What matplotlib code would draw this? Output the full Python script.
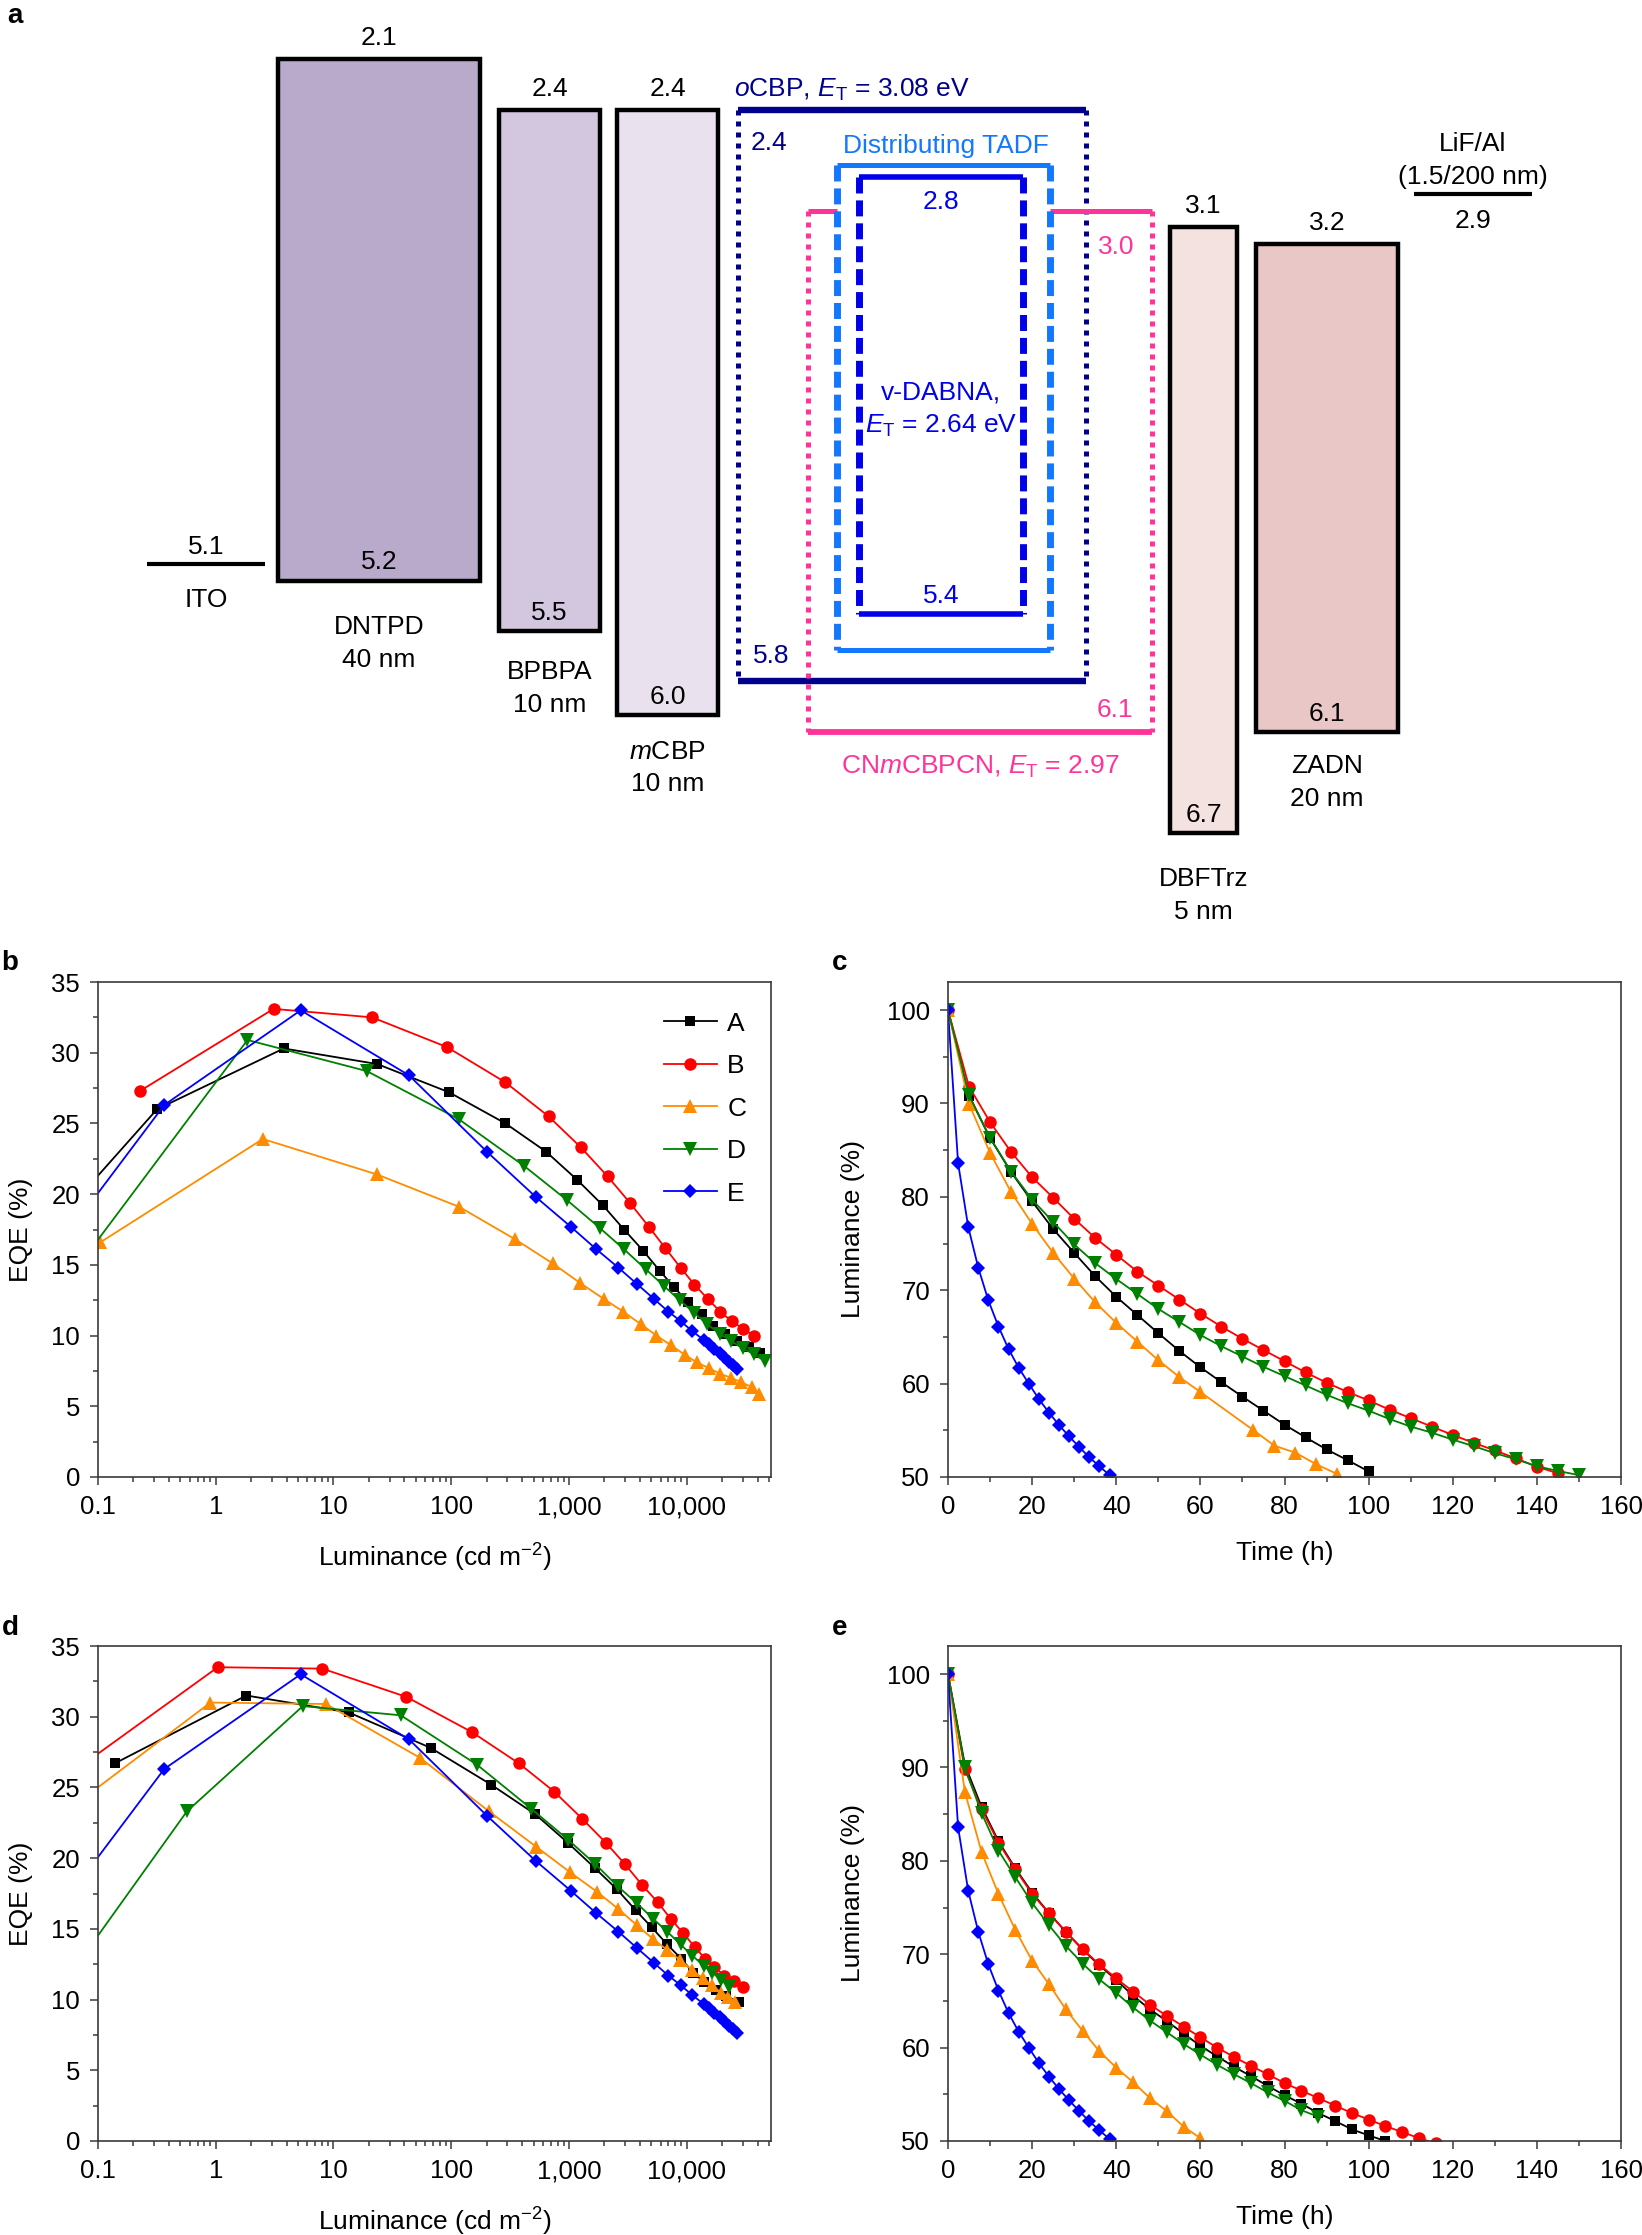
import matplotlib as mpl
import matplotlib.pyplot as plt
from matplotlib.ticker import MultipleLocator, LogLocator, NullFormatter


# ---------------- panel a : energy levels (eV) ----------------
box_names = ["DNTPD\n40 nm", "BPBPA\n10 nm", "$m$CBP\n10 nm", "DBFTrz\n5 nm", "ZADN\n20 nm"]
box_lumo = [2.1, 2.4, 2.4, 3.1, 3.2]
box_homo = [5.2, 5.5, 6.0, 6.7, 6.1]
ito_level = 5.1
cathode_level = 2.9
ocbp_levels = [2.4, 5.8]
cnmcbpcn_levels = [3.0, 6.1]
tadf_levels = [2.73, 5.61]
vdabna_levels = [2.8, 5.4]

# ---------------- panel b : EQE vs luminance ----------------
b_lum_A = [0.08, 0.317, 3.78, 23.5, 96, 289, 640, 1178, 1946, 2935, 4266, 5875, 7850,
           10300, 13370, 16860, 21300, 26700, 33500, 41900]
b_eqe_A = [20.4, 26.0, 30.3, 29.2, 27.2, 25.0, 23.0, 21.0, 19.2, 17.5, 16.0, 14.6, 13.4,
           12.35, 11.5, 10.7, 10.1, 9.6, 9.2, 8.8]
b_lum_B = [0.228, 3.10, 21.3, 92, 289, 671, 1265, 2133, 3283, 4764, 6561, 8873, 11620,
           15090, 19200, 24200, 30000, 37000]
b_eqe_B = [27.3, 33.1, 32.5, 30.4, 27.9, 25.5, 23.3, 21.25, 19.4, 17.7, 16.2, 14.8, 13.6,
           12.6, 11.7, 11.0, 10.5, 10.0]
b_lum_C = [0.105, 2.51, 23.3, 117, 350, 728, 1253, 1968, 2880, 4090, 5530, 7400, 9610,
           12220, 15380, 19200, 24000, 29000, 36000, 41000]
b_eqe_C = [16.6, 23.9, 21.4, 19.1, 16.8, 15.1, 13.7, 12.6, 11.7, 10.8, 10.0, 9.3, 8.65,
           8.1, 7.7, 7.3, 7.0, 6.7, 6.35, 5.9]
b_lum_D = [0.08, 1.86, 19.2, 116, 415, 955, 1833, 2935, 4480, 6430, 8690, 11620, 14930,
           19300, 24000, 29800, 37000, 46000]
b_eqe_D = [15.7, 30.9, 28.7, 25.3, 22.0, 19.6, 17.6, 16.1, 14.7, 13.5, 12.5, 11.6, 10.8,
           10.1, 9.6, 9.1, 8.7, 8.2]
lum_E = [0.08, 0.365, 5.27, 43.8, 201, 523, 1035, 1710, 2630, 3776, 5260, 6970, 8950,
         11170, 13930, 15500, 17200, 19000, 20800, 22800, 24800, 27000]
eqe_E = [19.0, 26.3, 33.0, 28.4, 23.0, 19.8, 17.7, 16.1, 14.8, 13.65, 12.6, 11.7, 11.0,
         10.3, 9.7, 9.4, 9.05, 8.75, 8.45, 8.15, 7.9, 7.65]

# ---------------- panel d : EQE vs luminance ----------------
d_lum_A = [0.139, 1.82, 13.5, 66.8, 218, 518, 975, 1660, 2554, 3700, 5058, 6830, 8950,
           11360, 14000, 17600, 21600, 28000]
d_eqe_A = [26.7, 31.5, 30.3, 27.8, 25.2, 23.1, 21.1, 19.3, 17.8, 16.3, 15.1, 13.9, 12.9,
           11.9, 11.25, 10.7, 10.25, 9.8]
d_lum_B = [0.08, 1.04, 8.04, 41.7, 150.7, 376, 750, 1290, 2050, 2970, 4180, 5650, 7330,
           9330, 11750, 14300, 17100, 20900, 25000, 30000]
d_eqe_B = [26.8, 33.5, 33.4, 31.4, 28.9, 26.7, 24.7, 22.8, 21.1, 19.6, 18.1, 16.9, 15.7,
           14.7, 13.7, 12.9, 12.3, 11.7, 11.3, 10.9]
d_lum_C = [0.08, 0.902, 8.63, 54.1, 210, 528, 1023, 1743, 2630, 3780, 5150, 6830, 8770,
           11060, 13670, 16500, 19400, 22600, 25900]
d_eqe_C = [24.4, 31.0, 30.9, 27.1, 23.3, 20.8, 19.0, 17.6, 16.4, 15.25, 14.3, 13.5, 12.8,
           12.1, 11.5, 11.0, 10.5, 10.2, 9.8]
d_lum_D = [0.08, 0.568, 5.49, 37.3, 166, 477, 984, 1660, 2606, 3780, 5210, 6830, 8860,
           11200, 13900, 16500, 19600, 22900]
d_eqe_D = [13.4, 23.3, 30.75, 30.1, 26.6, 23.5, 21.3, 19.6, 18.0, 16.8, 15.7, 14.8, 13.9,
           13.1, 12.4, 11.9, 11.4, 10.9]

# ---------------- panel c : lifetime ----------------
c_time_A = [0, 5, 10, 15, 20, 25, 30, 35, 40, 45, 50, 55, 60, 65, 70, 75, 80, 85, 90, 95, 100]
c_lum_A = [100, 90.8, 86.3, 82.65, 79.5, 76.55, 74.0, 71.5, 69.3, 67.35, 65.4, 63.5, 61.75,
           60.15, 58.6, 57.1, 55.6, 54.25, 52.95, 51.8, 50.6]
c_time_B = [0, 5, 10, 15, 20, 25, 30, 35, 40, 45, 50, 55, 60, 65, 70, 75, 80, 85, 90, 95,
            100, 105, 110, 115, 120, 125, 130, 135, 140, 145]
c_lum_B = [100, 91.8, 88.0, 84.8, 82.1, 79.9, 77.65, 75.6, 73.8, 72.0, 70.5, 69.0, 67.5,
           66.1, 64.8, 63.6, 62.4, 61.2, 60.1, 59.1, 58.2, 57.2, 56.3, 55.4, 54.5, 53.65,
           52.85, 52.0, 51.1, 50.4]
c_time_C = [0, 5, 10, 15, 20, 25, 30, 35, 40, 45, 50, 55, 60, 72.5, 77.6, 82.6, 87.6, 92.6]
c_lum_C = [100, 89.95, 84.7, 80.5, 77.1, 74.0, 71.25, 68.7, 66.5, 64.5, 62.5, 60.7, 59.1,
           55.05, 53.35, 52.6, 51.35, 50.3]
c_time_D = [0, 5, 10, 15, 20, 25, 30, 35, 40, 45, 50, 55, 60, 65, 70, 75, 80, 85, 90, 95,
            100, 105, 110, 115, 120, 125, 130, 135, 140, 145, 150]
c_lum_D = [100, 90.9, 86.3, 82.7, 79.7, 77.3, 74.9, 72.9, 71.2, 69.6, 68.0, 66.6, 65.2,
           64.0, 62.9, 61.8, 60.8, 59.8, 58.8, 57.9, 57.1, 56.2, 55.4, 54.75, 54.0, 53.3,
           52.55, 51.9, 51.15, 50.65, 50.2]
time_E = [0, 2.4, 4.8, 7.2, 9.6, 12.0, 14.4, 16.8, 19.2, 21.6, 24.0, 26.4, 28.8, 31.2,
          33.6, 36.0, 38.4]
life_E = [100, 83.6, 76.8, 72.4, 68.9, 66.1, 63.7, 61.7, 60.0, 58.35, 56.9, 55.55, 54.35,
          53.2, 52.1, 51.15, 50.2]

# ---------------- panel e : lifetime ----------------
e_time_A = [0, 4, 8, 12, 16, 20, 24, 28, 32, 36, 40, 44, 48, 52, 56, 60, 64, 68, 72, 76,
            80, 84, 88, 92, 96, 100, 104]
e_lum_A = [100, 90.3, 85.75, 82.1, 79.2, 76.6, 74.4, 72.4, 70.5, 68.8, 67.25, 65.55, 64.1,
           62.85, 61.5, 60.2, 59.05, 57.95, 56.95, 55.9, 54.9, 54.0, 53.0, 52.15, 51.25,
           50.6, 50.0]
e_time_B = [0, 4, 8, 12, 16, 20, 24, 28, 32, 36, 40, 44, 48, 52, 56, 60, 64, 68, 72, 76,
            80, 84, 88, 92, 96, 100, 104, 108, 112, 116]
e_lum_B = [100, 89.8, 85.5, 81.95, 79.1, 76.45, 74.4, 72.4, 70.55, 68.9, 67.4, 66.0, 64.6,
           63.4, 62.25, 61.1, 60.0, 59.0, 58.05, 57.15, 56.2, 55.4, 54.6, 53.8, 53.0, 52.3,
           51.6, 50.95, 50.3, 49.75]
e_time_C = [0, 4, 8, 12, 16, 20, 24, 28, 32, 36, 40, 44, 48, 52, 56, 60]
e_lum_C = [100, 87.4, 80.9, 76.45, 72.6, 69.3, 66.8, 64.1, 61.8, 59.6, 57.85, 56.3, 54.6,
           53.2, 51.55, 50.3]
e_time_D = [0, 4, 8, 12, 16, 20, 24, 28, 32, 36, 40, 44, 48, 52, 56, 60, 64, 68, 72, 76,
            80, 84, 88]
e_lum_D = [100, 90.0, 85.1, 81.1, 78.25, 75.5, 73.1, 70.9, 69.0, 67.3, 65.85, 64.3, 62.9,
           61.65, 60.4, 59.25, 58.15, 57.15, 56.2, 55.2, 54.3, 53.3, 52.6]

device_labels = ["A", "B", "C", "D", "E"]
lum_ticks = [0.1, 1, 10, 100, 1000, 10000]
lum_tick_labels = ["0.1", "1", "10", "100", "1,000", "10,000"]

# ---------------- styles / layout ----------------
W, H = 1642, 2235
SERIES_STYLE = [("s", "#000000", 7.5), ("o", "#ff0000", 9), ("^", "#ff8c00", 9.5),
                ("v", "#008000", 9.5), ("D", "#0000ff", 7)]
BOX_FILL = ["#b9aacb", "#d2c7de", "#e9e2ee", "#f4e2e1", "#e9c7c6"]
BOX_X = [(278, 480), (499, 600), (617, 718), (1170, 1237), (1256, 1398)]
NAME_DY = [-62, -58, -55, -62, -53]
ITO_X = (147, 265)
CATHODE_X = (1414, 1532)
OCBP_X = (738, 1086)
PINK_X = (808, 1152)
TADF_X = (837, 1050)
VDABNA_X = (859, 1023)
NAVY, PINK, SKY, BLUE = "#00008c", "#ff3399", "#1478ff", "#0000eb"
DOTS = [(0, (1, 1.2))]
DASHES = [(0, (2.3, 1.0))]
FS_A = 19
FS_TICK = 18.5
FS_LABEL = 19
LINESPACING = 1.45

plt.rcParams["font.family"] = ["Liberation Sans", "DejaVu Sans"]
plt.rcParams["mathtext.fontset"] = "custom"
plt.rcParams["mathtext.rm"] = "Liberation Sans"
plt.rcParams["mathtext.it"] = "Liberation Sans:italic"
plt.rcParams["mathtext.bf"] = "Liberation Sans:bold"


def px_axes(fig, left, top, right, bottom):
    """Axes placed with pixel edges (origin top-left)"""
    return fig.add_axes([left / W, 1 - bottom / H, (right - left) / W, (bottom - top) / H])


def label(ax, x, y, s, dy, color="black", ha="center", **kw):
    """Text whose (last line) baseline sits dy points above the level"""
    ax.annotate(s, (x, y), xytext=(0, dy), textcoords="offset points", ha=ha,
                va="baseline", fontsize=FS_A, color=color, linespacing=LINESPACING, **kw)


def plot_levels(ax):
    """Energy level diagram"""
    ax.set_xlim(0, W)
    ax.set_ylim(7.254, 1.748)
    ax.axis("off")

    centers = [(l + r) / 2 for l, r in BOX_X]
    widths = [r - l for l, r in BOX_X]
    heights = [h - l for l, h in zip(box_lumo, box_homo)]
    ax.bar(centers, heights, width=widths, bottom=box_lumo, color=BOX_FILL,
           edgecolor="black", linewidth=3.2, zorder=2)
    for c, lu, ho, name, ndy in zip(centers, box_lumo, box_homo, box_names, NAME_DY):
        label(ax, c, lu, f"{lu:.1f}", 10)
        label(ax, c, ho, f"{ho:.1f}", 8)
        label(ax, c, ho, name, ndy)

    # electrodes
    ax.hlines(ito_level, *ITO_X, color="black", lw=3)
    label(ax, sum(ITO_X) / 2, ito_level, f"{ito_level:.1f}", 7)
    label(ax, sum(ITO_X) / 2, ito_level, "ITO", -31)
    ax.hlines(cathode_level, *CATHODE_X, color="black", lw=3)
    label(ax, sum(CATHODE_X) / 2, cathode_level, f"{cathode_level:.1f}", -25)
    label(ax, sum(CATHODE_X) / 2, cathode_level, "LiF/Al\n(1.5/200 nm)", 7)

    # oCBP host
    ax.hlines(ocbp_levels, *OCBP_X, color=NAVY, lw=4.6)
    ax.vlines(OCBP_X, *ocbp_levels, color=NAVY, lw=3.6, linestyles=DOTS)
    label(ax, OCBP_X[0] - 4, ocbp_levels[0], "$o$CBP, $E_\\mathrm{T}$ = 3.08 eV", 9,
          color=NAVY, ha="left")
    label(ax, OCBP_X[0] + 13, ocbp_levels[0], f"{ocbp_levels[0]:.1f}", -29, color=NAVY, ha="left")
    label(ax, OCBP_X[0] + 15, ocbp_levels[1], f"{ocbp_levels[1]:.1f}", 13, color=NAVY, ha="left")

    # CNmCBPCN
    ax.hlines([cnmcbpcn_levels[0]] * 2, [PINK_X[0], TADF_X[1]], [TADF_X[0], PINK_X[1]],
              color=PINK, lw=3.6)
    ax.hlines(cnmcbpcn_levels[1], *PINK_X, color=PINK, lw=4.2)
    ax.vlines(PINK_X, *cnmcbpcn_levels, color=PINK, lw=3.6, linestyles=DOTS)
    label(ax, PINK_X[1] - 36, cnmcbpcn_levels[0], f"{cnmcbpcn_levels[0]:.1f}", -31, color=PINK)
    label(ax, PINK_X[1] - 37, cnmcbpcn_levels[1], f"{cnmcbpcn_levels[1]:.1f}", 11, color=PINK)
    label(ax, sum(PINK_X) / 2, cnmcbpcn_levels[1], "CN$m$CBPCN, $E_\\mathrm{T}$ = 2.97", -30,
          color=PINK)

    # distributing TADF
    ax.hlines(tadf_levels, *TADF_X, color=SKY, lw=3.6)
    ax.vlines(TADF_X, *tadf_levels, color=SKY, lw=5, linestyles=DASHES)
    label(ax, sum(TADF_X) / 2 + 2, tadf_levels[0], "Distributing TADF", 9, color=SKY)

    # v-DABNA
    ax.hlines(vdabna_levels, *VDABNA_X, color=BLUE, lw=4)
    ax.vlines(VDABNA_X, *vdabna_levels, color=BLUE, lw=5, linestyles=DASHES)
    vc = sum(VDABNA_X) / 2
    label(ax, vc, vdabna_levels[0], f"{vdabna_levels[0]:.1f}", -23, color=BLUE)
    label(ax, vc, vdabna_levels[1], f"{vdabna_levels[1]:.1f}", 8, color=BLUE)
    label(ax, vc, sum(vdabna_levels) / 2, "v-DABNA,\n$E_\\mathrm{T}$ = 2.64 eV", -27, color=BLUE)


def style_axes(ax):
    for sp in ax.spines.values():
        sp.set_color("#3a3a3a")
        sp.set_linewidth(1.2)
    ax.tick_params(which="both", direction="out", top=False, right=False,
                   color="#3a3a3a", width=1.1, labelsize=FS_TICK)
    ax.tick_params(which="major", length=6, pad=7)
    ax.tick_params(which="minor", length=3.5)


def plot_eqe(ax, series, legend=False):
    for (lum, eqe), (mk, col, ms), lab in zip(series, SERIES_STYLE, device_labels):
        ax.plot(lum, eqe, marker=mk, color=col, ms=ms, mew=0, lw=1.3, label=lab)
    ax.set_xscale("log")
    ax.set_xlim(0.1, 5.2e4)
    ax.set_ylim(0, 35)
    ax.set_xticks(lum_ticks, lum_tick_labels)
    ax.xaxis.set_minor_locator(LogLocator(base=10, subs=[2, 3, 4, 5, 6, 7, 8, 9], numticks=20))
    ax.xaxis.set_minor_formatter(NullFormatter())
    ax.yaxis.set_major_locator(MultipleLocator(5))
    ax.yaxis.set_minor_locator(MultipleLocator(2.5))
    style_axes(ax)
    ax.set_xlabel("Luminance (cd m$^{-2}$)", fontsize=FS_LABEL)
    ax.set_ylabel("EQE (%)", fontsize=FS_LABEL)
    ax.xaxis.set_label_coords(0.5, -0.13)
    ax.yaxis.set_label_coords(-0.097, 0.5)
    if legend:
        ax.legend(loc="upper left", bbox_to_anchor=(0.841, 0.94), frameon=False,
                  fontsize=FS_LABEL, handlelength=2.0, handletextpad=0.4,
                  labelspacing=0.7, borderpad=0, borderaxespad=0)


def plot_life(ax, series):
    for (t, lum), (mk, col, ms) in zip(series, SERIES_STYLE):
        ax.plot(t, lum, marker=mk, color=col, ms=ms, mew=0, lw=1.3)
    ax.set_xlim(0, 160)
    ax.set_ylim(50, 103)
    ax.xaxis.set_major_locator(MultipleLocator(20))
    ax.xaxis.set_minor_locator(MultipleLocator(10))
    ax.yaxis.set_major_locator(MultipleLocator(10))
    ax.yaxis.set_minor_locator(MultipleLocator(5))
    style_axes(ax)
    ax.set_xlabel("Time (h)", fontsize=FS_LABEL)
    ax.set_ylabel("Luminance (%)", fontsize=FS_LABEL)
    ax.xaxis.set_label_coords(0.5, -0.13)
    ax.yaxis.set_label_coords(-0.123, 0.5)


fig = plt.figure(figsize=(W / 100, H / 100), dpi=100)

ax_a = px_axes(fig, 0, 0, W, 926)
plot_levels(ax_a)

ax_b = px_axes(fig, 98, 982, 771, 1477)
plot_eqe(ax_b, [(b_lum_A, b_eqe_A), (b_lum_B, b_eqe_B), (b_lum_C, b_eqe_C),
                (b_lum_D, b_eqe_D), (lum_E, eqe_E)], legend=True)
ax_c = px_axes(fig, 948, 982, 1621, 1477)
plot_life(ax_c, [(c_time_A, c_lum_A), (c_time_B, c_lum_B), (c_time_C, c_lum_C),
                 (c_time_D, c_lum_D), (time_E, life_E)])
ax_d = px_axes(fig, 98, 1646, 771, 2141)
plot_eqe(ax_d, [(d_lum_A, d_eqe_A), (d_lum_B, d_eqe_B), (d_lum_C, d_eqe_C),
                (d_lum_D, d_eqe_D), (lum_E, eqe_E)])
ax_e = px_axes(fig, 948, 1646, 1621, 2141)
plot_life(ax_e, [(e_time_A, e_lum_A), (e_time_B, e_lum_B), (e_time_C, e_lum_C),
                 (e_time_D, e_lum_D), (time_E, life_E)])

for letter, (x, y) in zip("abcde", [(15, 16), (10, 963), (840, 963), (10, 1628), (840, 1628)]):
    fig.text(x / W, 1 - y / H, letter, fontsize=20, fontweight="bold", ha="center", va="center")

fig.savefig("out.png", dpi=100)
